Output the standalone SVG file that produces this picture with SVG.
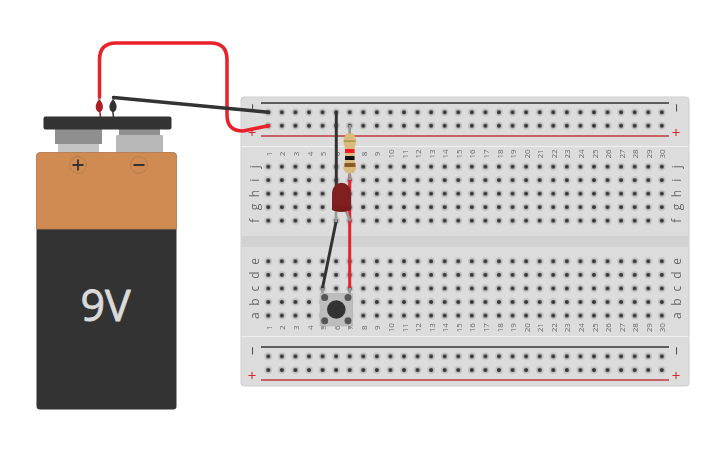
<svg xmlns="http://www.w3.org/2000/svg" width="725" height="453" viewBox="0 0 725 453">
<style>
.lbl{font-family:"Open Sans","Liberation Sans",sans-serif;fill:#666;text-anchor:middle;dominant-baseline:central;opacity:.99}
.n{font-size:8px}
.l{font-size:12px}
.rm{font-size:15px;fill:#444}
.rp{font-size:15px;fill:#d2252b}
.wire{fill:none;stroke-linecap:round;stroke-linejoin:round}
.red{stroke:#e8212a}
.blk{stroke:#333}
.lead{stroke:#999;stroke-width:2.6;fill:none}
</style>
<defs>
<g id="hole"><circle r="4" fill="#c9c9c9"/><circle r="3.200" fill="#bdbdbd"/><circle r="2" fill="#333"/></g>
<pattern id="h1" patternUnits="userSpaceOnUse" x="261.520" y="105.520" width="13.570" height="13.450"><use href="#hole" x="6.780" y="6.780"/></pattern>
<pattern id="h2" patternUnits="userSpaceOnUse" x="261.520" y="159.920" width="13.570" height="13.500"><use href="#hole" x="6.780" y="6.780"/></pattern>
<pattern id="h3" patternUnits="userSpaceOnUse" x="261.520" y="254.520" width="13.570" height="13.570"><use href="#hole" x="6.780" y="6.780"/></pattern>
<pattern id="h4" patternUnits="userSpaceOnUse" x="261.520" y="349.520" width="13.570" height="13.700"><use href="#hole" x="6.780" y="6.780"/></pattern>
</defs>
<rect width="725" height="453" fill="#fff"/>

<g id="breadboard">
<rect x="241" y="97" width="448" height="289" rx="3" fill="#dcdcdc" stroke="#cfcfcf"/>
<rect x="241.500" y="236" width="447" height="11" fill="#d2d2d2"/>
<path d="M241.500 146.500H688.500M241.500 336.500H688.500" stroke="#f0f0f0" stroke-width="1"/>
<path d="M261 103H669M261 347H669" stroke="#333" stroke-width="1.300"/>
<path d="M261 136H669M261 380H669" stroke="#c0393d" stroke-width="1.300"/>
<rect x="261.520" y="105.520" width="407.100" height="26.900" fill="url(#h1)"/>
<rect x="261.520" y="159.920" width="407.100" height="67.500" fill="url(#h2)"/>
<rect x="261.520" y="254.520" width="407.100" height="67.850" fill="url(#h3)"/>
<rect x="261.520" y="349.520" width="407.100" height="27.400" fill="url(#h4)"/>

<g class="lbl rm">
<text transform="translate(252 108) rotate(-90)">−</text>
<text transform="translate(676 108) rotate(-90)">−</text>
<text transform="translate(252 351) rotate(-90)">−</text>
<text transform="translate(676 351) rotate(-90)">−</text>
</g>
<g class="lbl rp">
<text x="252" y="131.500">+</text>
<text x="676" y="131.500">+</text>
<text x="252" y="374.500">+</text>
<text x="676" y="374.500">+</text>
</g>
<g class="lbl l">
<text transform="translate(254 166.700) rotate(-90)">j</text><text transform="translate(254 180.300) rotate(-90)">i</text><text transform="translate(254 193.700) rotate(-90)">h</text><text transform="translate(254 207) rotate(-90)">g</text><text transform="translate(254 220.700) rotate(-90)">f</text>
<text transform="translate(254 261.300) rotate(-90)">e</text><text transform="translate(254 275) rotate(-90)">d</text><text transform="translate(254 288.500) rotate(-90)">c</text><text transform="translate(254 302) rotate(-90)">b</text><text transform="translate(254 315.700) rotate(-90)">a</text>
<text transform="translate(676 166.700) rotate(-90)">j</text><text transform="translate(676 180.300) rotate(-90)">i</text><text transform="translate(676 193.700) rotate(-90)">h</text><text transform="translate(676 207) rotate(-90)">g</text><text transform="translate(676 220.700) rotate(-90)">f</text>
<text transform="translate(676 261.300) rotate(-90)">e</text><text transform="translate(676 275) rotate(-90)">d</text><text transform="translate(676 288.500) rotate(-90)">c</text><text transform="translate(676 302) rotate(-90)">b</text><text transform="translate(676 315.700) rotate(-90)">a</text>
</g>
<g class="lbl n" id="numbers-top">
<text transform="translate(268.300 154) rotate(-90)">1</text><text transform="translate(281.900 154) rotate(-90)">2</text><text transform="translate(295.400 154) rotate(-90)">3</text><text transform="translate(309 154) rotate(-90)">4</text><text transform="translate(322.600 154) rotate(-90)">5</text><text transform="translate(336.100 154) rotate(-90)">6</text><text transform="translate(349.700 154) rotate(-90)">7</text><text transform="translate(363.300 154) rotate(-90)">8</text><text transform="translate(376.900 154) rotate(-90)">9</text><text transform="translate(390.400 154) rotate(-90)">10</text>
<text transform="translate(404 154) rotate(-90)">11</text><text transform="translate(417.600 154) rotate(-90)">12</text><text transform="translate(431.100 154) rotate(-90)">13</text><text transform="translate(444.700 154) rotate(-90)">14</text><text transform="translate(458.300 154) rotate(-90)">15</text><text transform="translate(471.800 154) rotate(-90)">16</text><text transform="translate(485.400 154) rotate(-90)">17</text><text transform="translate(499 154) rotate(-90)">18</text><text transform="translate(512.600 154) rotate(-90)">19</text><text transform="translate(526.100 154) rotate(-90)">20</text>
<text transform="translate(539.700 154) rotate(-90)">21</text><text transform="translate(553.300 154) rotate(-90)">22</text><text transform="translate(566.800 154) rotate(-90)">23</text><text transform="translate(580.400 154) rotate(-90)">24</text><text transform="translate(594 154) rotate(-90)">25</text><text transform="translate(607.500 154) rotate(-90)">26</text><text transform="translate(621.100 154) rotate(-90)">27</text><text transform="translate(634.700 154) rotate(-90)">28</text><text transform="translate(648.300 154) rotate(-90)">29</text><text transform="translate(661.800 154) rotate(-90)">30</text>
</g>
<g class="lbl n" id="numbers-bottom">
<text transform="translate(268.300 327.700) rotate(-90)">1</text><text transform="translate(281.900 327.700) rotate(-90)">2</text><text transform="translate(295.400 327.700) rotate(-90)">3</text><text transform="translate(309 327.700) rotate(-90)">4</text><text transform="translate(322.600 327.700) rotate(-90)">5</text><text transform="translate(336.100 327.700) rotate(-90)">6</text><text transform="translate(349.700 327.700) rotate(-90)">7</text><text transform="translate(363.300 327.700) rotate(-90)">8</text><text transform="translate(376.900 327.700) rotate(-90)">9</text><text transform="translate(390.400 327.700) rotate(-90)">10</text>
<text transform="translate(404 327.700) rotate(-90)">11</text><text transform="translate(417.600 327.700) rotate(-90)">12</text><text transform="translate(431.100 327.700) rotate(-90)">13</text><text transform="translate(444.700 327.700) rotate(-90)">14</text><text transform="translate(458.300 327.700) rotate(-90)">15</text><text transform="translate(471.800 327.700) rotate(-90)">16</text><text transform="translate(485.400 327.700) rotate(-90)">17</text><text transform="translate(499 327.700) rotate(-90)">18</text><text transform="translate(512.600 327.700) rotate(-90)">19</text><text transform="translate(526.100 327.700) rotate(-90)">20</text>
<text transform="translate(539.700 327.700) rotate(-90)">21</text><text transform="translate(553.300 327.700) rotate(-90)">22</text><text transform="translate(566.800 327.700) rotate(-90)">23</text><text transform="translate(580.400 327.700) rotate(-90)">24</text><text transform="translate(594 327.700) rotate(-90)">25</text><text transform="translate(607.500 327.700) rotate(-90)">26</text><text transform="translate(621.100 327.700) rotate(-90)">27</text><text transform="translate(634.700 327.700) rotate(-90)">28</text><text transform="translate(648.300 327.700) rotate(-90)">29</text><text transform="translate(661.800 327.700) rotate(-90)">30</text>
</g>
</g>

<g id="battery">
<rect x="55" y="129" width="47" height="15" fill="#8f8f8f"/>
<rect x="58" y="144" width="41" height="10" fill="#c4c4c4"/>
<rect x="119" y="129" width="41" height="7" fill="#8f8f8f"/>
<rect x="116" y="135" width="47" height="19" rx="1" fill="#b8b8b8"/>
<rect x="43.500" y="116.500" width="128" height="13" rx="2" fill="#333"/>
<rect x="36.500" y="152.500" width="140" height="257" rx="3.500" fill="#333"/>
<path d="M36.500 229V156a3.500 3.500 0 0 1 3.500-3.500H173a3.500 3.500 0 0 1 3.500 3.500V229Z" fill="#cf8b51" stroke="#b98050" stroke-width=".8"/>
<circle cx="78" cy="165" r="8.500" fill="none" stroke="#b47f4f"/>
<circle cx="139" cy="165" r="8.500" fill="none" stroke="#b47f4f"/>
<path d="M78 159.500v11M72.500 165h11M133.500 165h11" stroke="#333" stroke-width="1.800"/>
<text x="105.500" y="321" opacity=".99" font-family="'Open Sans','Noto Sans',sans-serif" font-size="43" fill="#dcdcdc" stroke="#dcdcdc" stroke-width=".8" stroke-linejoin="round" text-anchor="middle">9V</text>
</g>

<g id="clips">
<path d="M100.500 117l-1-8" stroke="#a81e22" stroke-width="1.500"/>
<path d="M113.500 117l-1-8" stroke="#333" stroke-width="1.500"/>
<path d="M99.300 99C101 101 102.900 104 102.900 106.500C102.900 109.500 101.500 112 99.300 112C97.100 112 95.700 109.500 95.700 106.500C95.700 104 97.600 101 99.300 99Z" fill="#a81e22"/>
<path d="M113 99C114.700 101 116.600 104 116.600 106.500C116.600 109.500 115.200 112 113 112C110.800 112 109.400 109.500 109.400 106.500C109.400 104 111.300 101 113 99Z" fill="#333"/>
<rect x="98" y="96" width="2.600" height="4" fill="#999"/>
<rect x="112" y="96" width="2.600" height="4" fill="#999"/>
</g>

<g id="connectors">
<path class="wire red" stroke-width="3.500" d="M99.500 97V60Q99.500 43 116 43H211Q227 43 227 60V115Q227 131 243 131L268.500 125.700"/>
<path class="wire blk" stroke-width="3.500" d="M113.500 97.500L268.500 112.300"/>
<path class="wire blk" stroke-width="3" d="M336.300 112.300V195"/>
<path class="wire blk" stroke-width="3" d="M336 222L322.500 288"/>
<path class="wire red" stroke-width="3" d="M349.700 175V288"/>
<path class="lead" d="M322.500 288v6M349.700 288v6"/>
</g>

<g id="resistor">
<path class="lead" d="M349.700 125V180"/>
<path d="M346 133.500h7.500L356.200 140v2L354.500 148v14L356.200 167.500v1.500L353.500 173h-7.500L343.300 169v-1.500L345 162v-14L343.300 142v-2Z" fill="#d9bb7f"/>
<rect x="344" y="140.500" width="11.500" height="1.200" fill="#9a8a3a"/>
<rect x="345" y="149" width="9.500" height="4" fill="#ee1c25"/>
<rect x="345" y="156" width="9.500" height="4" fill="#111"/>
<rect x="344.500" y="163" width="11" height="4" fill="#8a5a2a"/>
</g>

<g id="led">
<path class="lead" d="M336 211v11M346 211l4 10"/>
<path d="M332 209V193a9.500 10.300 0 0 1 19 0V209Z" fill="#7f1f1f"/>
<ellipse cx="341.500" cy="209" rx="9.800" ry="3" fill="#7a1c1c"/>
</g>

<g id="pushbutton">
<rect x="320" y="293.300" width="32.700" height="32.700" fill="#bdbdbd" stroke="#b0b0b0" stroke-width=".5"/>
<path class="lead" d="M322.700 326v3M349.700 326v3"/>
<circle cx="324.700" cy="297.500" r="3.500" fill="#555"/>
<circle cx="348" cy="297.500" r="3.500" fill="#555"/>
<circle cx="324.700" cy="320.700" r="3.500" fill="#555"/>
<circle cx="348" cy="320.700" r="3.500" fill="#555"/>
<circle cx="336.300" cy="309.500" r="9.300" fill="#333"/>
</g>
</svg>
